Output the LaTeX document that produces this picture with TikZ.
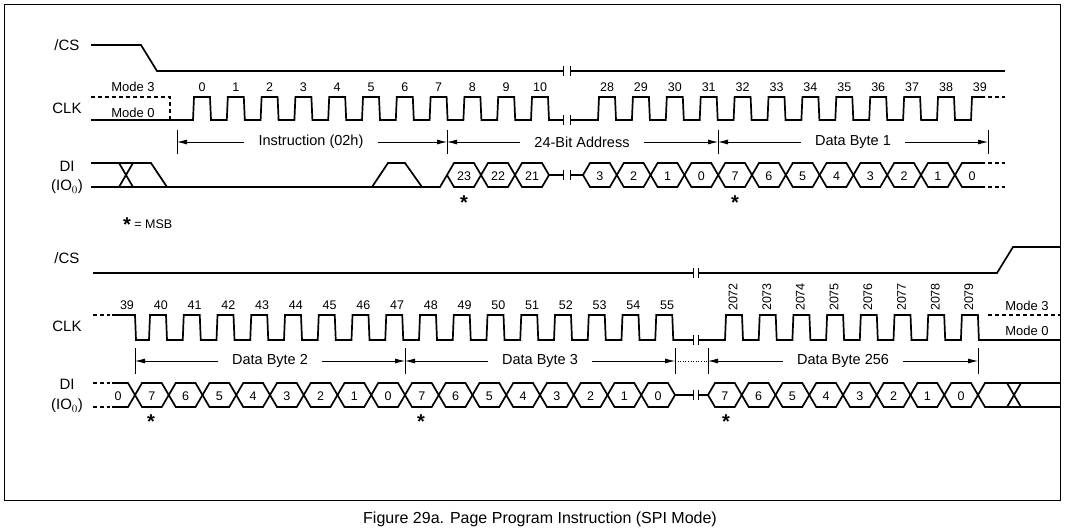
\documentclass[tikz,border=0pt]{standalone}
\usepackage{fontspec}
\setmainfont{Liberation Sans}
\usetikzlibrary{arrows.meta}
\begin{document}
\begin{tikzpicture}[x=1pt,y=-1pt,
  sig/.style={line width=1.7pt,line join=miter},
  dsig/.style={line width=1.7pt,dash pattern=on 4pt off 3pt},
  num/.style={font=\fontsize{12.5}{13}\selectfont,inner sep=0pt},
  mode/.style={font=\fontsize{13}{14}\selectfont,inner sep=0pt},
  lab/.style={font=\fontsize{15}{16}\selectfont,inner sep=0pt},
  seg/.style={font=\fontsize{14.5}{16}\selectfont,inner xsep=14pt,inner ysep=0pt},
  star/.style={font=\fontsize{20}{20}\selectfont\bfseries,inner sep=0pt},
  arr/.style={line width=0.8pt,-{Latex[length=10pt,width=5pt]}},
  tick/.style={line width=0.8pt},
  brk/.style={line width=0.9pt}]
\useasboundingbox (0,0) rectangle (1067,530);
\draw[line width=1pt] (4,4) rectangle (1060,500);
\node[font=\fontsize{16}{18}\selectfont] (cap) at (540,519) {Figure 29a. Page Program Instruction (SPI Mode)};
% ---------- labels top
\node[lab] (cs1) at (67,45) {/CS};
\node[lab] (clk1) at (67,108) {CLK};
\node[lab] (di1) at (67,166) {DI};
\node[lab] (io1) at (67,187) {(IO$_0$)};
\node[mode] (m3a) at (133,87) {Mode 3};
\node[mode] (m0a) at (133,113) {Mode 0};
% ---------- /CS top
\draw[sig] (91,45) -- (141,45) -- (157,71) -- (563,71);
\draw[sig] (570,71) -- (1005,71);
\draw[brk] (563,66) -- (563,76) (570,66) -- (570,76);
% ---------- CLK top
\draw[dsig] (91,97) -- (170,97) -- (170,120);
\draw[sig] (91,120)
  \foreach \i [evaluate=\i as \c using 202+33.8*\i] in {0,...,10} { -- (\c-9,120) -- (\c-8,97) -- (\c+8,97) -- (\c+9,120) } -- (563,120);
\draw[sig] (570,120)
  \foreach \i [evaluate=\i as \c using 607+33.9*\i] in {0,...,10} { -- (\c-9,120) -- (\c-8,97) -- (\c+8,97) -- (\c+9,120) } -- (971,120) -- (972,97) -- (985,97);
\draw[dsig] (988,97) -- (1005,97);
\draw[brk] (563,115) -- (563,125) (570,115) -- (570,125);
\foreach \i [evaluate=\i as \c using 202+33.8*\i] in {0,...,10} \node[num] (na\i) at (\c,87) {\i};
\foreach \i [evaluate=\i as \c using 607+33.9*\i, evaluate=\i as \n using int(28+\i)] in {0,...,11} \node[num] (nb\i) at (\c,87) {\n};
% ---------- arrows top
\draw[tick] (177,130) -- (177,154) (447,130) -- (447,154) (718,130) -- (718,154) (988,130) -- (988,154);
\node[seg] (t1) at (311,142) {Instruction (02h)};
\node[seg] (t2) at (582,142) {24-Bit Address};
\node[seg] (t3) at (853,142) {Data Byte 1};
\draw[arr] (t1.west) -- (177,142); \draw[arr] (t1.east) -- (447,142);
\draw[arr] (t2.west) -- (447,142); \draw[arr] (t2.east) -- (718,142);
\draw[arr] (t3.west) -- (718,142); \draw[arr] (t3.east) -- (988,142);
% ---------- DI top
\draw[sig] (91,163) -- (151,163) -- (167,187);
\draw[sig] (91,187) -- (440,187) -- (447,175);
\draw[sig] (119,163) -- (133,187) (119,187) -- (133,163);
\draw[sig] (372,187) -- (388,163) -- (405,163) -- (422,187) -- (440,187);
\foreach \a/\t [evaluate=\a as \b using \a+34] in {447/23,481/22,515/21} {
  \draw[sig] (\a,175) -- (\a+7,163) -- (\b-7,163) -- (\b,175) -- (\b-7,187) -- (\a+7,187) -- cycle;
  \node[num] at ({(\a+\b)/2},176) {\t};
}
\draw[sig] (549,175) -- (563,175) (570,175) -- (583,175);
\draw[brk] (563,170) -- (563,180) (570,170) -- (570,180);
\foreach \t [count=\k from 0, evaluate=\k as \a using 583+33.8*\k] in {3,2,1,0,7,6,5,4,3,2,1} {
  \draw[sig] (\a,175) -- (\a+7,163) -- (\a+26.8,163) -- (\a+33.8,175) -- (\a+26.8,187) -- (\a+7,187) -- cycle;
  \node[num] at (\a+16.9,176) {\t};
}
\draw[sig] (955,175) -- (962,163) -- (985,163) (955,175) -- (962,187) -- (985,187);
\node[num] at (972,176) {0};
\draw[dsig] (988,163) -- (1005,163) (988,187) -- (1005,187);
\node[star] (s1) at (464,203) {*};
\node[star] (s2) at (735,203) {*};
\node[anchor=west,inner sep=0pt,font=\fontsize{12.5}{13}\selectfont] (msb) at (123,225) {\raisebox{-0.45ex}{\fontsize{20}{20}\selectfont\bfseries *} = MSB};
% ---------- labels bottom
\node[lab] (cs2) at (67,258) {/CS};
\node[lab] (clk2) at (67,326) {CLK};
\node[lab] (di2) at (67,384) {DI};
\node[lab] (io2) at (67,406) {(IO$_0$)};
% ---------- /CS bottom
\draw[sig] (93,273) -- (693,273) (698,273) -- (997,273) -- (1013,247) -- (1060,247);
\draw[brk] (693,268) -- (693,278) (698,268) -- (698,278);
% ---------- CLK bottom
\draw[dsig] (93,315) -- (110,315);
\draw[sig] (112,315) -- (135,315) -- (136,340)
  \foreach \i [evaluate=\i as \c using 158+33.75*\i] in {0,...,15} { -- (\c-9,340) -- (\c-8,315) -- (\c+8,315) -- (\c+9,340) } -- (693,340);
\draw[sig] (698,340)
  \foreach \i [evaluate=\i as \c using 734+33.7*\i] in {0,...,7} { -- (\c-9,340) -- (\c-8,315) -- (\c+8,315) -- (\c+9,340) } -- (1060,340);
\draw[dsig] (988,315) -- (1060,315);
\draw[brk] (693,335) -- (693,345) (698,335) -- (698,345);
\foreach \i [evaluate=\i as \c using 127+33.75*\i, evaluate=\i as \n using int(39+\i)] in {0,...,16} \node[num] (nc\i) at (\c,305) {\n};
\foreach \i [evaluate=\i as \c using 734+33.7*\i, evaluate=\i as \n using int(2072+\i)] in {0,...,7} \node[num,rotate=90] (nd\i) at (\c-1,297) {\n};
\node[mode] (m3b) at (1027,306) {Mode 3};
\node[mode] (m0b) at (1027,331) {Mode 0};
% ---------- arrows bottom
\draw[tick] (135,348) -- (135,374) (405,348) -- (405,374) (675,348) -- (675,374) (708,348) -- (708,374) (978,348) -- (978,374);
\draw[line width=0.6pt,dotted] (675,361) -- (708,361);
\node[seg] (t4) at (270,361) {Data Byte 2};
\node[seg] (t5) at (540,361) {Data Byte 3};
\node[seg] (t6) at (843,361) {Data Byte 256};
\draw[arr] (t4.west) -- (135,361); \draw[arr] (t4.east) -- (405,361);
\draw[arr] (t5.west) -- (405,361); \draw[arr] (t5.east) -- (675,361);
\draw[arr] (t6.west) -- (708,361); \draw[arr] (t6.east) -- (978,361);
% ---------- DI bottom
\draw[dsig] (93,383) -- (110,383) (93,407) -- (110,407);
\draw[sig] (112,383) -- (128,383) -- (135,395) -- (128,407) -- (112,407);
\node[num] at (118,396) {0};
\foreach \t [count=\k from 0, evaluate=\k as \a using 135+33.75*\k] in {7,6,5,4,3,2,1,0,7,6,5,4,3,2,1,0} {
  \draw[sig] (\a,395) -- (\a+7,383) -- (\a+26.75,383) -- (\a+33.75,395) -- (\a+26.75,407) -- (\a+7,407) -- cycle;
  \node[num] at (\a+16.9,396) {\t};
}
\draw[sig] (675,395) -- (693,395) (698,395) -- (708,395);
\draw[brk] (693,390) -- (693,400) (698,390) -- (698,400);
\foreach \t [count=\k from 0, evaluate=\k as \a using 708+33.75*\k] in {7,6,5,4,3,2,1,0} {
  \draw[sig] (\a,395) -- (\a+7,383) -- (\a+26.75,383) -- (\a+33.75,395) -- (\a+26.75,407) -- (\a+7,407) -- cycle;
  \node[num] at (\a+16.9,396) {\t};
}
\draw[sig] (978,395) -- (985,383) -- (1060,383) (978,395) -- (985,407) -- (1060,407);
\draw[sig] (1007,383) -- (1021,407) (1007,407) -- (1021,383);
\node[star] (s3) at (151,422) {*};
\node[star] (s4) at (421,422) {*};
\node[star] (s5) at (726,422) {*};
\end{tikzpicture}
\end{document}
